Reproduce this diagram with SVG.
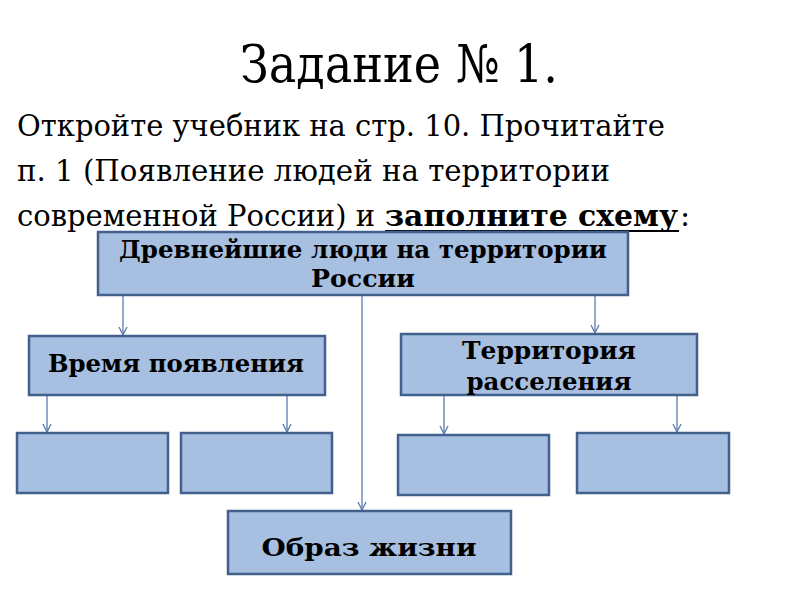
<svg xmlns="http://www.w3.org/2000/svg" width="800" height="600" viewBox="0 0 800 600">
<defs>
<style>
.box{fill:#a7bfe0;stroke:#41618c;stroke-width:2.5}
.lbl{font-family:"DejaVu Serif","Liberation Serif",serif;font-weight:bold;font-size:24px;fill:#000}
.body{font-family:"DejaVu Serif","Liberation Serif",serif;font-size:30px;fill:#000}
.con{stroke:#5b7bad;stroke-width:1.3;fill:none}
</style>
<marker id="v" viewBox="0 0 10 10" refX="9" refY="5" markerWidth="10" markerHeight="10" markerUnits="userSpaceOnUse" orient="auto">
<path d="M1,1 L9,5 L1,9" fill="none" stroke="#5b7bad" stroke-width="1.3"/>
</marker>
</defs>
<rect width="800" height="600" fill="#fff"/>
<text x="399" y="82" text-anchor="middle" font-family="DejaVu Serif, Liberation Serif, serif" font-size="52" textLength="318" lengthAdjust="spacingAndGlyphs">Задание № 1.</text>
<text class="body" x="17" y="136" textLength="648" lengthAdjust="spacingAndGlyphs">Откройте учебник на стр. 10. Прочитайте</text>
<text class="body" x="17" y="181" textLength="593" lengthAdjust="spacingAndGlyphs">п. 1 (Появление людей на территории</text>
<text class="body" y="226"><tspan x="17" textLength="358" lengthAdjust="spacingAndGlyphs">современной России)  и</tspan><tspan x="385" font-weight="bold" textLength="293" lengthAdjust="spacingAndGlyphs">заполните схему</tspan><tspan x="680">:</tspan></text>
<line x1="385" y1="231" x2="679" y2="231" stroke="#000" stroke-width="2"/>
<g id="connectors">
<line class="con" x1="123" y1="295" x2="123" y2="335" marker-end="url(#v)"/>
<line class="con" x1="595" y1="295" x2="595" y2="333" marker-end="url(#v)"/>
<line class="con" x1="362" y1="295" x2="362" y2="510" marker-end="url(#v)"/>
<line class="con" x1="47" y1="395" x2="47" y2="432" marker-end="url(#v)"/>
<line class="con" x1="287" y1="395" x2="287" y2="432" marker-end="url(#v)"/>
<line class="con" x1="444" y1="395" x2="444" y2="434" marker-end="url(#v)"/>
<line class="con" x1="677" y1="395" x2="677" y2="432" marker-end="url(#v)"/>
</g>
<g id="root">
<rect class="box" x="98" y="232" width="530" height="63"/>
<text class="lbl" x="363" y="258" text-anchor="middle" textLength="488" lengthAdjust="spacingAndGlyphs">Древнейшие люди на территории</text>
<text class="lbl" x="363" y="287" text-anchor="middle" textLength="104" lengthAdjust="spacingAndGlyphs">России</text>
</g>
<g id="time">
<rect class="box" x="29" y="336" width="296" height="59"/>
<text class="lbl" x="176" y="372" text-anchor="middle" textLength="256" lengthAdjust="spacingAndGlyphs">Время появления</text>
</g>
<g id="territory">
<rect class="box" x="401" y="334" width="296" height="61"/>
<text class="lbl" x="549" y="359" text-anchor="middle" textLength="174" lengthAdjust="spacingAndGlyphs">Территория</text>
<text class="lbl" x="549" y="390" text-anchor="middle" textLength="165" lengthAdjust="spacingAndGlyphs">расселения</text>
</g>
<g id="time-a"><rect class="box" x="17" y="433" width="151" height="60"/></g>
<g id="time-b"><rect class="box" x="181" y="433" width="151" height="60"/></g>
<g id="terr-a"><rect class="box" x="398" y="435" width="151" height="60"/></g>
<g id="terr-b"><rect class="box" x="577" y="433" width="152" height="60"/></g>
<g id="life">
<rect class="box" x="228" y="511" width="283" height="63"/>
<text class="lbl" x="369" y="556" text-anchor="middle" font-size="29" textLength="215" lengthAdjust="spacingAndGlyphs">Образ жизни</text>
</g>
</svg>
